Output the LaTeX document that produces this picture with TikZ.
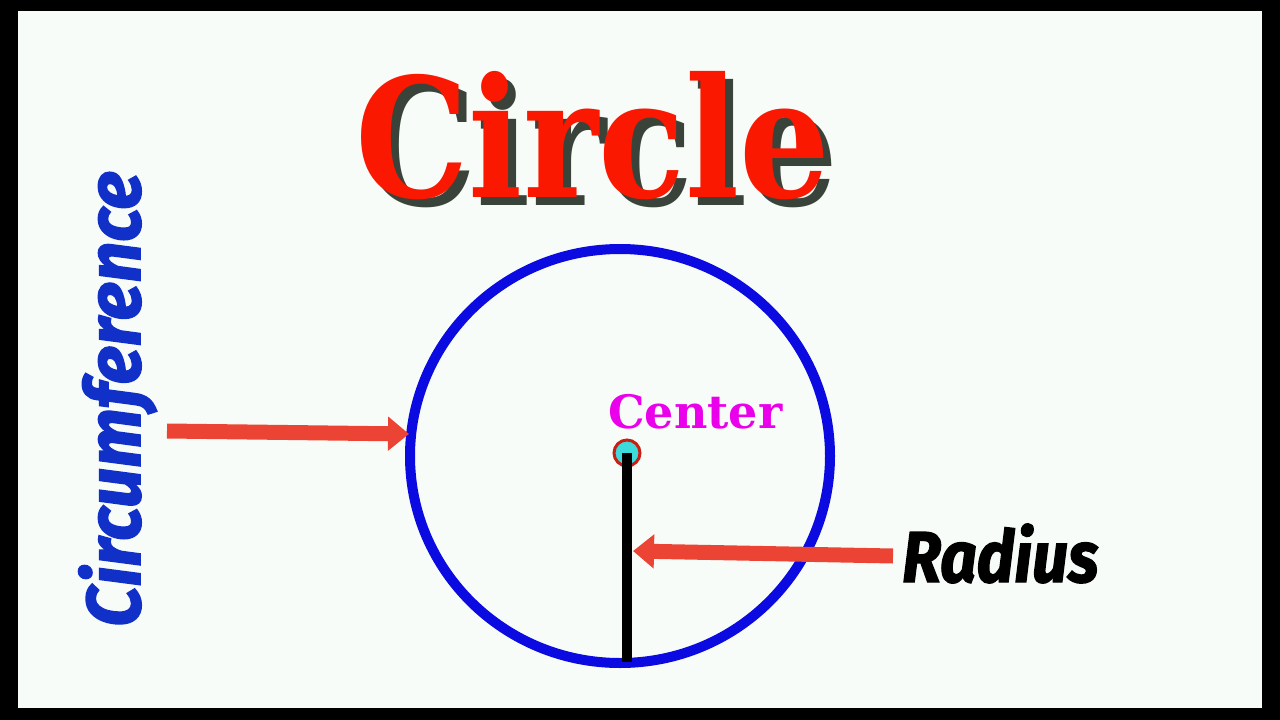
\documentclass[tikz,border=0pt]{standalone}
\usepackage{fontspec}
\usetikzlibrary{arrows.meta,shapes.geometric}
\newfontfamily\titlefont{DejaVu Serif}
\newfontfamily\labelfont{Fira Sans}[FakeBold=2]
\definecolor{bgcol}{RGB}{248,252,248}
\definecolor{titlered}{RGB}{250,24,0}
\definecolor{shadowcol}{RGB}{25,35,25}
\definecolor{arrowred}{RGB}{236,68,52}
\definecolor{ringblue}{RGB}{10,10,225}
\definecolor{textblue}{RGB}{16,48,200}
\definecolor{centermag}{RGB}{235,0,235}
\definecolor{dotcyan}{RGB}{60,220,220}
\definecolor{dotred}{RGB}{200,30,20}
\begin{document}
\begin{tikzpicture}[x=1pt,y=-1pt,
  pointer/.style={draw=arrowred,line width=15pt,-{Triangle[width=33pt,length=21pt]}},
  titletext/.style={font=\titlefont\bfseries\fontsize{166}{166}\selectfont,inner sep=0pt,anchor=base west},
  sanslabel/.style={inner sep=0pt,anchor=base west}]
\fill[black] (0,0) rectangle (1280,720);
\fill[bgcol] (18,11) rectangle (1262,708);
\useasboundingbox (0,0) rectangle (1280,720);
% title with shadow
\node[titletext,text=shadowcol,opacity=0.85] (titleshadow) at (363,205) {\scalebox{0.86}[1]{Circle}};
\node[titletext,text=titlered] (title) at (355,197) {\scalebox{0.86}[1]{Circle}};
% circle
\node[ellipse,draw=ringblue,line width=10pt,minimum width=420pt,minimum height=414pt,inner sep=0pt] (circ) at (620,456) {};
% center dot and radius
\node[circle,fill=dotcyan,draw=dotred,line width=3pt,minimum size=26pt,inner sep=0pt] (dot) at (627,453) {};
\coordinate (rbottom) at (627,662);
\draw[black,line width=10pt] (dot.center) -- (rbottom);
\node[font=\titlefont\bfseries\fontsize{46}{46}\selectfont,text=centermag,inner sep=0pt,anchor=base west] (center) at (608,428) {Center};
% labels
\node[sanslabel,text=black,font=\labelfont\bfseries\itshape\fontsize{72}{72}\selectfont] (radius) at (902,582) {\scalebox{0.89}[1]{Radius}};
\node[sanslabel,text=textblue,font=\labelfont\bfseries\itshape\fontsize{76}{76}\selectfont,rotate=90] (circum) at (140,627) {\scalebox{0.94}[1]{Circumference}};
% arrows
\coordinate (ctail) at (167,431);
\coordinate (ctip) at (409,434);
\draw[pointer] (ctail) -- (ctip);
\coordinate (rtail) at (893,556);
\coordinate (rtip) at (633,551);
\draw[pointer] (rtail) -- (rtip);
\end{tikzpicture}
\end{document}
